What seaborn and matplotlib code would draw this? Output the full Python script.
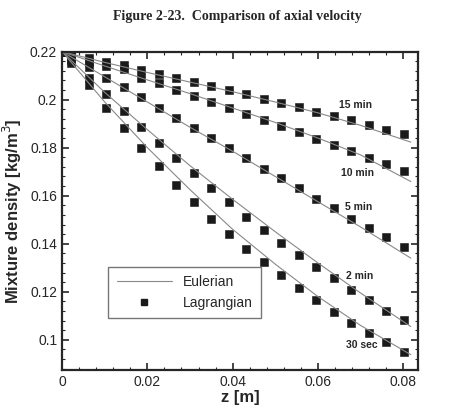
import numpy as np
import pandas as pd
import matplotlib
matplotlib.use("Agg")
import matplotlib.pyplot as plt
import seaborn as sns
from matplotlib.ticker import MultipleLocator

# ── Data ───────────────────────────────────────────────────────────────────────
z_lag = [0.0, 0.002, 0.0063, 0.0104, 0.0145, 0.0186, 0.0227, 0.0268, 0.0309, 0.035,
         0.0391, 0.0432, 0.0473, 0.0514, 0.0555, 0.0596, 0.0637, 0.0678, 0.0719,
         0.076, 0.0801]
lag_15min = [.2200, .2196, .2175, .2158, .2144, .2124, .2108, .2092, .2074, .2057,
             .2039, .2022, .2004, .1986, .1968, .1950, .1931, .1914, .1895, .1875, .1856]
lag_10min = [.2200, .2190, .2156, .2140, .2126, .2092, .2068, .2040, .2017, .1992,
             .1967, .1942, .1916, .1889, .1864, .1838, .1811, .1784, .1758, .1731, .1703]
lag_5min = [.2200, .2182, .2135, .2092, .2052, .2009, .1964, .1923, .1881, .1839,
            .1798, .1756, .1713, .1672, .1630, .1588, .1548, .1505, .1466, .1427, .1388]
lag_2min = [.2200, .2165, .2092, .2022, .1953, .1884, .1819, .1756, .1694, .1630,
            .1572, .1513, .1458, .1405, .1354, .1304, .1257, .1208, .1164, .1121, .1083]
lag_30sec = [.2200, .2151, .2061, .1964, .1881, .1798, .1722, .1644, .1572, .1505,
             .1440, .1377, .1322, .1268, .1215, .1164, .1117, .1071, .1029, .0990, .0951]

z_eul = [0.0, 0.01, 0.02, 0.03, 0.04, 0.05, 0.06, 0.07, 0.0818]
eul_15min = [.2200, .2155, .2113, .2073, .2033, .1990, .1945, .1893, .1823]
eul_10min = [.2200, .2140, .2082, .2025, .1965, .1905, .1840, .1770, .1659]
eul_5min = [.2200, .2095, .1990, .1885, .1785, .1680, .1575, .1470, .1340]
eul_2min = [.2200, .2030, .1875, .1725, .1585, .1450, .1320, .1195, .1055]
eul_30sec = [.2200, .1990, .1800, .1625, .1460, .1315, .1180, .1060, .0938]

cases = ["15 min", "10 min", "5 min", "2 min", "30 sec"]
lag_series = [lag_15min, lag_10min, lag_5min, lag_2min, lag_30sec]
eul_series = [eul_15min, eul_10min, eul_5min, eul_2min, eul_30sec]
label_x = [0.0689, 0.0694, 0.0696, 0.0698, 0.0702]
label_y = [0.1978, 0.1696, 0.1555, 0.1264, 0.0979]

lag_df = pd.concat([pd.DataFrame({"z": z_lag, "rho": v, "case": c})
                    for c, v in zip(cases, lag_series)])
eul_df = pd.concat([pd.DataFrame({"z": z_eul, "rho": v, "case": c})
                    for c, v in zip(cases, eul_series)])

# ── Plot ───────────────────────────────────────────────────────────────────────
sns.set_style("ticks")
plt.rcParams["font.family"] = ["Liberation Sans", "DejaVu Sans"]

fig = plt.figure(figsize=(4.74, 4.16), dpi=100)
ax = fig.add_axes([0.131, 0.111, 0.751, 0.765])

sns.lineplot(data=eul_df, x="z", y="rho", units="case", estimator=None,
             color="#888888", lw=0.8, ax=ax)
sns.scatterplot(data=lag_df, x="z", y="rho", marker="s", s=26, color="#1a1a1a",
                edgecolor="#1a1a1a", ax=ax)

for c, lx, ly in zip(cases, label_x, label_y):
    ax.text(lx, ly, c, fontsize=7.5, fontweight="bold", ha="center", va="center")

ax.set_xlim(0, 0.0835)
ax.set_ylim(0.0875, 0.22)
ax.xaxis.set_minor_locator(MultipleLocator(0.004))
ax.yaxis.set_minor_locator(MultipleLocator(0.004))
ax.set_xticks([0, 0.02, 0.04, 0.06, 0.08])
ax.set_xticklabels(["0", "0.02", "0.04", "0.06", "0.08"])
ax.set_yticks([0.1, 0.12, 0.14, 0.16, 0.18, 0.2, 0.22])
ax.set_yticklabels(["0.1", "0.12", "0.14", "0.16", "0.18", "0.2", "0.22"])
ax.tick_params(which="both", direction="in", top=True, right=True, labelsize=10)
ax.tick_params(which="major", length=5, width=1.2)
ax.tick_params(which="minor", length=2.5, width=0.8)
for sp in ax.spines.values():
    sp.set_linewidth(1.6)

ax.set_xlabel("z [m]", fontsize=12, fontweight="bold", labelpad=1)
ax.set_ylabel("Mixture density [kg/m$^3$]", fontsize=12, fontweight="bold")

handles = [plt.Line2D([], [], color="#888888", lw=0.8),
           plt.Line2D([], [], color="#1a1a1a", marker="s", ls="", ms=4.5)]
leg = ax.legend(handles, ["Eulerian", "Lagrangian"], loc="lower left",
                bbox_to_anchor=(0.11, 0.14), fancybox=False, edgecolor="#777777",
                fontsize=10, handlelength=4, borderpad=0.6, framealpha=1)

fig.text(0.5, 0.975, "Figure 2-23.  Comparison of axial velocity",
         ha="center", va="top", fontsize=10, fontweight="bold",
         family=["Liberation Serif", "DejaVu Serif"])

plt.savefig("out.png", dpi=100)
plt.close()
